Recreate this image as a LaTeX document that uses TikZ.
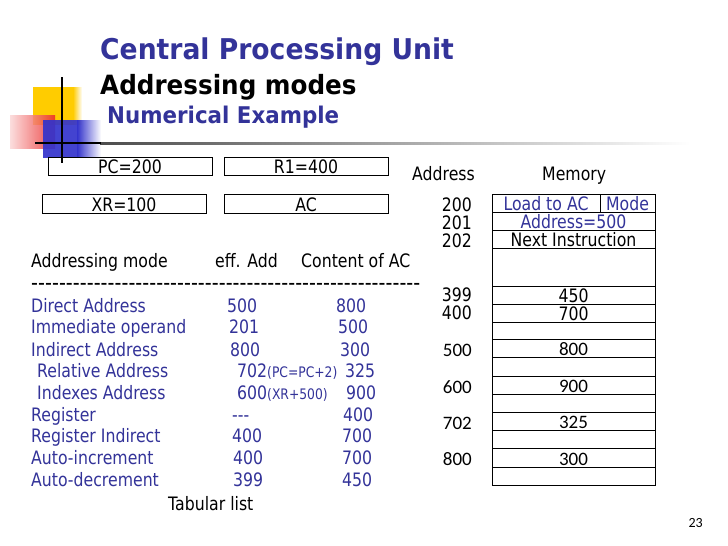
\documentclass[tikz,border=0pt]{standalone}
\usepackage{fontspec}
\usetikzlibrary{fadings}
\newfontfamily\tahfont[FakeStretch=0.85]{DejaVu Sans}
\newfontfamily\ttlfont[FakeStretch=0.93]{DejaVu Sans}
\newfontfamily\carfont{Carlito}
\definecolor{ttlblue}{RGB}{51,51,153}
\definecolor{txtblue}{RGB}{51,51,153}
\definecolor{lgyellow}{RGB}{255,204,0}
\definecolor{lgred}{RGB}{235,40,40}
\definecolor{lgblue}{RGB}{51,51,204}
\begin{document}
\begin{tikzpicture}[x=1pt,y=-1pt,
  lbl/.style={inner sep=0pt, anchor=base west, font={\tahfont\fontsize{18.5}{20}\selectfont}},
  lble/.style={lbl, anchor=base east},
  blu/.style={text=txtblue},
  small/.style={inner sep=0pt, anchor=base west, font={\tahfont\fontsize{14.5}{16}\selectfont}, text=txtblue},
  calf/.style={font={\carfont\fontsize{19}{20}\selectfont}},
  regbox/.style={draw, line width=0.8pt, minimum width=164pt, minimum height=18pt, inner sep=0pt,
    text height=15pt, text depth=0pt, font={\tahfont\fontsize{18.5}{20}\selectfont}},
  cell/.style={draw, line width=0.8pt, minimum width=163pt, minimum height=18pt, inner sep=0pt,
    text height=15pt, text depth=0pt, font={\tahfont\fontsize{18.5}{20}\selectfont}},
  ttlA/.style={inner sep=0pt, anchor=base west, text=ttlblue, font={\ttlfont\bfseries\fontsize{28.6}{30}\selectfont}},
  ttlB/.style={inner sep=0pt, anchor=base west, text=black, font={\ttlfont\bfseries\fontsize{26.5}{28}\selectfont}},
  ttlC/.style={inner sep=0pt, anchor=base west, text=ttlblue, font={\ttlfont\bfseries\fontsize{23}{24}\selectfont}}
]
\useasboundingbox (0,0) rectangle (728,546);
\fill[white] (0,0) rectangle (728,546);

% logo
\fill[lgyellow] (33,87) rectangle (73,125);
\fill[lgyellow, path fading=east] (73,87) rectangle (82,125);
\shade[left color=lgred!18, right color=lgred, opacity=0.85] (10,115) rectangle (55,148);
\fill[lgblue, opacity=0.92] (43,120) rectangle (77,158);
\fill[lgblue, path fading=east] (77,120) rectangle (101,158);
\shade[left color=black!70, right color=white] (100,142) rectangle (690,144.5);
\draw[line width=2pt] (35,143.2) -- (101,143.2);
\draw[line width=2pt] (62,77) -- (62,163);

% titles
\node[ttlA] (t1) at (100,59) {Central Processing Unit};
\node[ttlB] (t2) at (100,94) {Addressing modes};
\node[ttlC] (t3) at (107,123) {Numerical Example};

% registers
\node[regbox] (pc) at (130,166) {PC=200};
\node[regbox] (r1) at (306,166) {R1=400};
\node[regbox, minimum height=19pt] (xr) at (124,203.5) {XR=100};
\node[regbox, minimum height=19pt] (ac) at (306,203.5) {AC};

% memory headers
\node[lbl] (haddr) at (412,180) {Address};
\node[lbl] (hmem) at (542,180) {Memory};

% memory cells
\node[cell, minimum width=108pt, text=txtblue] (m200a) at (546,203) {Load to AC};
\node[cell, minimum width=55pt, text=txtblue] (m200b) at (627.5,203) {Mode};
\node[cell, text=txtblue] (m201) at (573.5,221) {Address=500};
\node[cell] (m202) at (573.5,239) {Next Instruction};
\node[cell, minimum height=38pt] (g1) at (573.5,267) {};
\node[cell] (m399) at (573.5,295) {450};
\node[cell] (m400) at (573.5,313) {700};
\node[cell, minimum height=17pt] (g2) at (573.5,330.5) {};
\node[cell, calf] (m500) at (573.5,348) {800};
\node[cell, minimum height=19pt] (g3) at (573.5,366.5) {};
\node[cell, calf] (m600) at (573.5,385) {900};
\node[cell] (g4) at (573.5,403) {};
\node[cell, calf] (m702) at (573.5,421) {325};
\node[cell] (g5) at (573.5,439) {};
\node[cell, calf, minimum height=19pt] (m800) at (573.5,457.5) {300};
\node[cell] (g6) at (573.5,476) {};

% addresses
\node[lble] (a200) at (472,211) {200};
\node[lble] (a201) at (472,229) {201};
\node[lble] (a202) at (472,247) {202};
\node[lble] (a399) at (472,301) {399};
\node[lble] (a400) at (472,319) {400};
\node[lble, calf] (a500) at (472,356) {500};
\node[lble, calf] (a600) at (472,393) {600};
\node[lble, calf] (a702) at (472,429) {702};
\node[lble, calf] (a800) at (472,465) {800};

% table
\node[lbl] (h1) at (31,267) {Addressing mode};
\node[lbl] (h2) at (215,267) {eff. Add};
\node[lbl] (h3) at (301,267) {Content of AC};
\node[lbl, font={\tahfont\fontsize{22.5}{24}\selectfont}] (dash) at (31,290) {\hbox to 389pt{\xleaders\hbox{-}\hfill}};

\node[lbl, blu] (r1a) at (31,312) {Direct Address};
\node[lbl, blu] (r1b) at (227,312) {500};
\node[lbl, blu] (r1c) at (336,312) {800};

\node[lbl, blu] (r2a) at (31,333) {Immediate operand};
\node[lbl, blu] (r2b) at (229,333) {201};
\node[lbl, blu] (r2c) at (338,333) {500};

\node[lbl, blu] (r3a) at (31,356) {Indirect Address};
\node[lbl, blu] (r3b) at (230,356) {800};
\node[lbl, blu] (r3c) at (340,356) {300};

\node[lbl, blu] (r4a) at (37,377) {Relative Address};
\node[lbl, blu] (r4b) at (237,377) {702};
\node[small] (r4d) at (267,377) {(PC=PC+2)};
\node[lbl, blu] (r4c) at (345,377) {325};

\node[lbl, blu] (r5a) at (37,399) {Indexes Address};
\node[lbl, blu] (r5b) at (237,399) {600};
\node[small] (r5d) at (267,399) {(XR+500)};
\node[lbl, blu] (r5c) at (346,399) {900};

\node[lbl, blu] (r6a) at (31,421) {Register};
\node[lbl, blu] (r6b) at (232,421) {-{}-{}-};
\node[lbl, blu] (r6c) at (343,421) {400};

\node[lbl, blu] (r7a) at (31,442) {Register Indirect};
\node[lbl, blu] (r7b) at (232,442) {400};
\node[lbl, blu] (r7c) at (342,442) {700};

\node[lbl, blu] (r8a) at (31,464) {Auto-increment};
\node[lbl, blu] (r8b) at (233,464) {400};
\node[lbl, blu] (r8c) at (342,464) {700};

\node[lbl, blu] (r9a) at (31,486) {Auto-decrement};
\node[lbl, blu] (r9b) at (233,486) {399};
\node[lbl, blu] (r9c) at (342,486) {450};

\node[lbl] (cap) at (168,510) {Tabular list};
\node[inner sep=0pt, anchor=base east, font={\carfont\fontsize{14}{16}\selectfont}] (pg) at (703,527) {23};
\end{tikzpicture}
\end{document}
